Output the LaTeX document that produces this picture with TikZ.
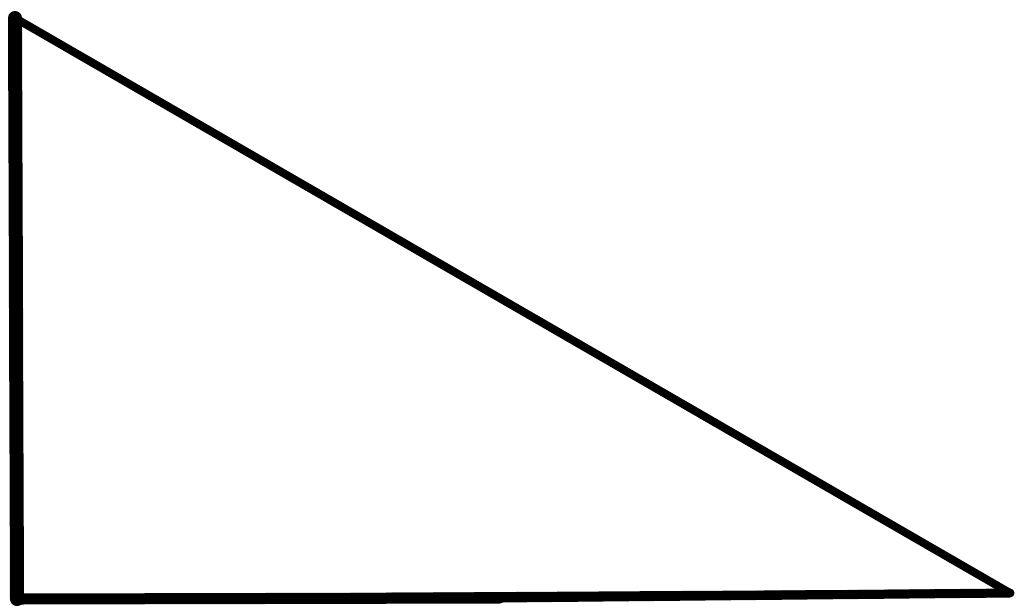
\documentclass[tikz,border=0pt]{standalone}
\begin{document}
\begin{tikzpicture}[x=1pt,y=-1pt,line join=round,line cap=round]
\useasboundingbox (0,0) rectangle (1024,614);
\coordinate (A) at (15,18);
\coordinate (B) at (17,599);
\coordinate (C) at (1010,593);
\draw[line width=8pt] (A) -- (B) -- (C) -- cycle;
\draw[line width=14pt] (A) -- (B);
\draw[line width=11pt] (B) -- (500,598);
\draw[line width=9pt] (500,598) -- (C);
\end{tikzpicture}
\end{document}
